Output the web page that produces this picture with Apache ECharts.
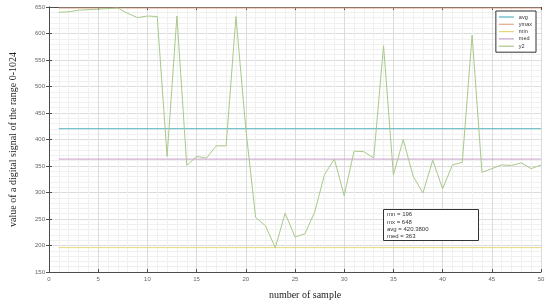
<!DOCTYPE html>
<html>
<head>
<meta charset="utf-8">
<script src="https://cdn.jsdelivr.net/npm/echarts@6/dist/echarts.min.js"></script>
<style>
  html, body { margin: 0; padding: 0; background: #fff; }
  #chart { width: 550px; height: 305px; }
</style>
</head>
<body>
<div id="chart"></div>
<script>
// sample numbers and measured values (y2)
const samples = Array.from({ length: 50 }, (_, i) => i + 1);
const y2 = [640, 641, 644, 645, 646, 647, 648, 638, 630, 633,
            632, 368, 633, 351, 368, 365, 388, 388, 632, 420,
            253, 237, 196, 261, 216, 222, 263, 334, 363, 294,
            378, 377, 365, 577, 333, 400, 331, 299, 361, 307,
            352, 357, 597, 338, 345, 352, 351, 356, 345, 352];

// statistics shown as horizontal lines
const mn = 196;
const mx = 648;
const avg = 420.38;
const med = 363;

const xTicks = [0, 50, 5];     // min, max, interval
const yTicks = [150, 650, 50];

const colors = {
  avg: '#58b4bc',
  ymax: '#e2a98f',
  min: '#e6d77c',
  med: '#c79ec8',
  y2: '#a9c98a'
};

const chart = echarts.init(document.getElementById('chart'));

function flat(v) {
  return [[samples[0], v], [samples[samples.length - 1], v]];
}

const axisCommon = {
  type: 'value',
  axisLine: { show: true, lineStyle: { color: '#4d4d4d', width: 1 } },
  axisTick: { show: true, inside: true, length: 3, lineStyle: { color: '#4d4d4d' } },
  axisLabel: { color: '#666', fontSize: 6, fontFamily: 'Liberation Sans' },
  splitLine: { show: true, lineStyle: { color: '#dcdcdc', width: 1 } },
  minorTick: { show: false, splitNumber: 5 },
  minorSplitLine: { show: true, lineStyle: { color: '#f0f0f0', width: 1 } }
};

const mirror = {
  type: 'value',
  axisLine: { show: true, lineStyle: { color: '#4d4d4d', width: 1 } },
  axisTick: { show: true, inside: true, length: 3, lineStyle: { color: '#4d4d4d' } },
  axisLabel: { show: false },
  splitLine: { show: false }
};

const line = (name, data, color) => ({
  name: name,
  type: 'line',
  data: data,
  symbol: 'none',
  showSymbol: false,
  lineStyle: { color: color, width: 1 },
  itemStyle: { color: color },
  animation: false
});

chart.setOption({
  animation: false,
  backgroundColor: '#fff',
  grid: { left: 43, right: 9, top: 7, bottom: 29 },
  xAxis: [
    Object.assign({}, axisCommon, {
      min: xTicks[0], max: xTicks[1], interval: xTicks[2],
      axisLabel: Object.assign({}, axisCommon.axisLabel, { margin: 4 }),
      name: 'number of sample',
      nameLocation: 'middle',
      nameGap: 18,
      nameTextStyle: { fontFamily: 'Liberation Serif', fontSize: 10, color: '#222', padding: [0, 0, 0, 20] }
    }),
    Object.assign({}, mirror, { position: 'top', min: xTicks[0], max: xTicks[1], interval: xTicks[2] })
  ],
  yAxis: [
    Object.assign({}, axisCommon, {
      min: yTicks[0], max: yTicks[1], interval: yTicks[2],
      axisLabel: Object.assign({}, axisCommon.axisLabel, { margin: 4 }),
      name: 'value of a digital signal of the range 0-1024',
      nameLocation: 'middle',
      nameGap: 31,
      nameTextStyle: { fontFamily: 'Liberation Serif', fontSize: 10, color: '#222' }
    }),
    Object.assign({}, mirror, { position: 'right', min: yTicks[0], max: yTicks[1], interval: yTicks[2] })
  ],
  legend: {
    right: 14,
    top: 11,
    orient: 'vertical',
    backgroundColor: '#fff',
    borderColor: '#333',
    borderWidth: 1,
    borderRadius: 0,
    padding: [3, 4, 3, 3],
    icon: 'rect',
    itemWidth: 15,
    itemHeight: 1.2,
    itemGap: 1.3,
    textStyle: { fontSize: 5.5, lineHeight: 6, fontFamily: 'Liberation Sans', color: '#333' },
    data: ['avg', 'ymax', 'min', 'med', 'y2']
  },
  graphic: [
    {
      type: 'rect',
      left: 383, top: 209,
      shape: { width: 95, height: 31 },
      style: { fill: '#fff', stroke: '#333', lineWidth: 1 },
      z: 100
    },
    {
      type: 'text',
      left: 387, top: 211,
      style: {
        text: ['mn = ' + mn, 'mx = ' + mx, 'avg = ' + avg.toFixed(4), 'med = ' + med].join('\n'),
        font: '6px "Liberation Sans"',
        lineHeight: 7.3,
        fill: '#333'
      },
      z: 101
    }
  ],
  series: [
    line('avg', flat(avg), colors.avg),
    line('ymax', flat(mx), colors.ymax),
    line('min', flat(mn), colors.min),
    line('med', flat(med), colors.med),
    line('y2', samples.map((s, i) => [s, y2[i]]), colors.y2)
  ]
});
</script>
</body>
</html>
